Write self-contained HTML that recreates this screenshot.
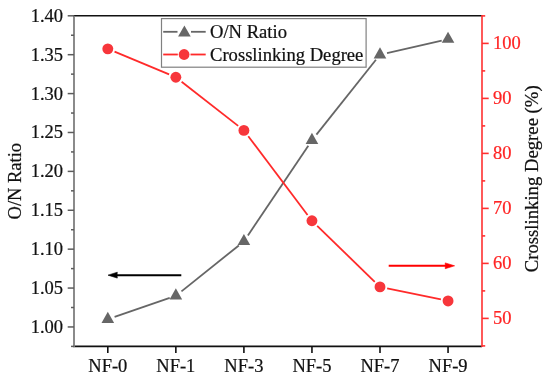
<!DOCTYPE html><html><head><meta charset="utf-8"><style>html,body{margin:0;padding:0;background:#fff;}svg{display:block;}text{font-family:"Liberation Serif","Times New Roman",serif;stroke-width:0.22px;}</style></head><body>
<svg width="550" height="381" viewBox="0 0 550 381">
<line x1="73.2" y1="15.8" x2="482.0" y2="15.8" stroke="#111" stroke-width="1.6"/>
<line x1="73.2" y1="346.4" x2="482.0" y2="346.4" stroke="#111" stroke-width="1.6"/>
<line x1="74.0" y1="15.8" x2="74.0" y2="347.0" stroke="#7e7e7e" stroke-width="1.8"/>
<line x1="482.0" y1="15.0" x2="482.0" y2="347.0" stroke="#ff3030" stroke-width="1.6"/>
<line x1="71.0" y1="346.40" x2="74.0" y2="346.40" stroke="#5c5c5c" stroke-width="1.5"/>
<line x1="67.7" y1="326.95" x2="74.0" y2="326.95" stroke="#5c5c5c" stroke-width="1.5"/>
<text x="63" y="332.95" font-size="18.5" text-anchor="end" fill="#111" stroke="#111">1.00</text>
<line x1="71.0" y1="307.51" x2="74.0" y2="307.51" stroke="#5c5c5c" stroke-width="1.5"/>
<line x1="67.7" y1="288.06" x2="74.0" y2="288.06" stroke="#5c5c5c" stroke-width="1.5"/>
<text x="63" y="294.06" font-size="18.5" text-anchor="end" fill="#111" stroke="#111">1.05</text>
<line x1="71.0" y1="268.61" x2="74.0" y2="268.61" stroke="#5c5c5c" stroke-width="1.5"/>
<line x1="67.7" y1="249.16" x2="74.0" y2="249.16" stroke="#5c5c5c" stroke-width="1.5"/>
<text x="63" y="255.16" font-size="18.5" text-anchor="end" fill="#111" stroke="#111">1.10</text>
<line x1="71.0" y1="229.72" x2="74.0" y2="229.72" stroke="#5c5c5c" stroke-width="1.5"/>
<line x1="67.7" y1="210.27" x2="74.0" y2="210.27" stroke="#5c5c5c" stroke-width="1.5"/>
<text x="63" y="216.27" font-size="18.5" text-anchor="end" fill="#111" stroke="#111">1.15</text>
<line x1="71.0" y1="190.82" x2="74.0" y2="190.82" stroke="#5c5c5c" stroke-width="1.5"/>
<line x1="67.7" y1="171.38" x2="74.0" y2="171.38" stroke="#5c5c5c" stroke-width="1.5"/>
<text x="63" y="177.38" font-size="18.5" text-anchor="end" fill="#111" stroke="#111">1.20</text>
<line x1="71.0" y1="151.93" x2="74.0" y2="151.93" stroke="#5c5c5c" stroke-width="1.5"/>
<line x1="67.7" y1="132.48" x2="74.0" y2="132.48" stroke="#5c5c5c" stroke-width="1.5"/>
<text x="63" y="138.48" font-size="18.5" text-anchor="end" fill="#111" stroke="#111">1.25</text>
<line x1="71.0" y1="113.04" x2="74.0" y2="113.04" stroke="#5c5c5c" stroke-width="1.5"/>
<line x1="67.7" y1="93.59" x2="74.0" y2="93.59" stroke="#5c5c5c" stroke-width="1.5"/>
<text x="63" y="99.59" font-size="18.5" text-anchor="end" fill="#111" stroke="#111">1.30</text>
<line x1="71.0" y1="74.14" x2="74.0" y2="74.14" stroke="#5c5c5c" stroke-width="1.5"/>
<line x1="67.7" y1="54.69" x2="74.0" y2="54.69" stroke="#5c5c5c" stroke-width="1.5"/>
<text x="63" y="60.69" font-size="18.5" text-anchor="end" fill="#111" stroke="#111">1.35</text>
<line x1="71.0" y1="35.25" x2="74.0" y2="35.25" stroke="#5c5c5c" stroke-width="1.5"/>
<line x1="67.7" y1="15.80" x2="74.0" y2="15.80" stroke="#5c5c5c" stroke-width="1.5"/>
<text x="63" y="21.80" font-size="18.5" text-anchor="end" fill="#111" stroke="#111">1.40</text>
<line x1="482.0" y1="345.90" x2="485.2" y2="345.90" stroke="#ff3030" stroke-width="1.6"/>
<line x1="482.0" y1="318.40" x2="488.7" y2="318.40" stroke="#ff3030" stroke-width="1.6"/>
<text x="493" y="324.40" font-size="18.5" fill="#ff2424" stroke="#ff2424" stroke-width="0.1">50</text>
<line x1="482.0" y1="290.90" x2="485.2" y2="290.90" stroke="#ff3030" stroke-width="1.6"/>
<line x1="482.0" y1="263.40" x2="488.7" y2="263.40" stroke="#ff3030" stroke-width="1.6"/>
<text x="493" y="269.40" font-size="18.5" fill="#ff2424" stroke="#ff2424" stroke-width="0.1">60</text>
<line x1="482.0" y1="235.90" x2="485.2" y2="235.90" stroke="#ff3030" stroke-width="1.6"/>
<line x1="482.0" y1="208.40" x2="488.7" y2="208.40" stroke="#ff3030" stroke-width="1.6"/>
<text x="493" y="214.40" font-size="18.5" fill="#ff2424" stroke="#ff2424" stroke-width="0.1">70</text>
<line x1="482.0" y1="180.90" x2="485.2" y2="180.90" stroke="#ff3030" stroke-width="1.6"/>
<line x1="482.0" y1="153.40" x2="488.7" y2="153.40" stroke="#ff3030" stroke-width="1.6"/>
<text x="493" y="159.40" font-size="18.5" fill="#ff2424" stroke="#ff2424" stroke-width="0.1">80</text>
<line x1="482.0" y1="125.90" x2="485.2" y2="125.90" stroke="#ff3030" stroke-width="1.6"/>
<line x1="482.0" y1="98.40" x2="488.7" y2="98.40" stroke="#ff3030" stroke-width="1.6"/>
<text x="493" y="104.40" font-size="18.5" fill="#ff2424" stroke="#ff2424" stroke-width="0.1">90</text>
<line x1="482.0" y1="70.90" x2="485.2" y2="70.90" stroke="#ff3030" stroke-width="1.6"/>
<line x1="482.0" y1="43.40" x2="488.7" y2="43.40" stroke="#ff3030" stroke-width="1.6"/>
<text x="493" y="49.40" font-size="18.5" fill="#ff2424" stroke="#ff2424" stroke-width="0.1">100</text>
<line x1="482.0" y1="15.90" x2="485.2" y2="15.90" stroke="#ff3030" stroke-width="1.6"/>
<line x1="107.80" y1="346.4" x2="107.80" y2="352.9" stroke="#111" stroke-width="1.6"/>
<text x="107.80" y="372.3" font-size="18.5" text-anchor="middle" fill="#111" stroke="#111">NF-0</text>
<line x1="175.85" y1="346.4" x2="175.85" y2="352.9" stroke="#111" stroke-width="1.6"/>
<text x="175.85" y="372.3" font-size="18.5" text-anchor="middle" fill="#111" stroke="#111">NF-1</text>
<line x1="243.90" y1="346.4" x2="243.90" y2="352.9" stroke="#111" stroke-width="1.6"/>
<text x="243.90" y="372.3" font-size="18.5" text-anchor="middle" fill="#111" stroke="#111">NF-3</text>
<line x1="311.95" y1="346.4" x2="311.95" y2="352.9" stroke="#111" stroke-width="1.6"/>
<text x="311.95" y="372.3" font-size="18.5" text-anchor="middle" fill="#111" stroke="#111">NF-5</text>
<line x1="380.00" y1="346.4" x2="380.00" y2="352.9" stroke="#111" stroke-width="1.6"/>
<text x="380.00" y="372.3" font-size="18.5" text-anchor="middle" fill="#111" stroke="#111">NF-7</text>
<line x1="448.05" y1="346.4" x2="448.05" y2="352.9" stroke="#111" stroke-width="1.6"/>
<text x="448.05" y="372.3" font-size="18.5" text-anchor="middle" fill="#111" stroke="#111">NF-9</text>
<text transform="translate(21,181.2) rotate(-90)" font-size="18.5" text-anchor="middle" fill="#111" stroke="#111">O/N Ratio</text>
<text transform="translate(537.5,178.8) rotate(-90)" font-size="18.7" text-anchor="middle" fill="#111" stroke="#111">Crosslinking Degree (%)</text>
<line x1="114.61" y1="316.84" x2="169.70" y2="297.95" stroke="#666666" stroke-width="1.8"/>
<line x1="181.47" y1="291.34" x2="238.82" y2="245.45" stroke="#666666" stroke-width="1.8"/>
<line x1="247.92" y1="235.41" x2="308.32" y2="145.65" stroke="#666666" stroke-width="1.8"/>
<line x1="316.43" y1="134.63" x2="375.95" y2="59.78" stroke="#666666" stroke-width="1.8"/>
<line x1="387.02" y1="53.09" x2="441.71" y2="40.59" stroke="#666666" stroke-width="1.8"/>
<line x1="114.54" y1="51.67" x2="169.11" y2="74.43" stroke="#ff2a2a" stroke-width="1.8"/>
<line x1="181.60" y1="81.73" x2="238.15" y2="125.91" stroke="#ff2a2a" stroke-width="1.8"/>
<line x1="248.29" y1="136.24" x2="307.56" y2="214.94" stroke="#ff2a2a" stroke-width="1.8"/>
<line x1="317.19" y1="225.86" x2="374.76" y2="281.80" stroke="#ff2a2a" stroke-width="1.8"/>
<line x1="387.15" y1="288.37" x2="440.90" y2="299.47" stroke="#ff2a2a" stroke-width="1.8"/>
<polygon points="107.80,311.71 101.50,322.91 114.10,322.91" fill="#666666"/>
<polygon points="175.85,288.37 169.55,299.57 182.15,299.57" fill="#666666"/>
<polygon points="243.90,233.92 237.60,245.12 250.20,245.12" fill="#666666"/>
<polygon points="311.95,132.79 305.65,143.99 318.25,143.99" fill="#666666"/>
<polygon points="380.00,47.23 373.70,58.43 386.30,58.43" fill="#666666"/>
<polygon points="448.05,31.67 441.75,42.87 454.35,42.87" fill="#666666"/>
<circle cx="107.80" cy="48.86" r="5.45" fill="#f7363b"/>
<circle cx="175.85" cy="77.24" r="5.45" fill="#f7363b"/>
<circle cx="243.90" cy="130.41" r="5.45" fill="#f7363b"/>
<circle cx="311.95" cy="220.77" r="5.45" fill="#f7363b"/>
<circle cx="380.00" cy="286.89" r="5.45" fill="#f7363b"/>
<circle cx="448.05" cy="300.94" r="5.45" fill="#f7363b"/>
<rect x="161.5" y="18.6" width="204.6" height="48.6" fill="#fff" stroke="#808080" stroke-width="1.2"/>
<line x1="163.2" y1="31.8" x2="177.5" y2="31.8" stroke="#666666" stroke-width="1.8"/>
<line x1="191" y1="31.8" x2="205.7" y2="31.8" stroke="#666666" stroke-width="1.8"/>
<polygon points="184.40,25.40 178.10,36.60 190.70,36.60" fill="#666666"/>
<line x1="163.2" y1="54.5" x2="177.8" y2="54.5" stroke="#ff2a2a" stroke-width="1.8"/>
<line x1="190.5" y1="54.5" x2="205.7" y2="54.5" stroke="#ff2a2a" stroke-width="1.8"/>
<circle cx="184.1" cy="54.5" r="5.4" fill="#f7363b"/>
<text x="210" y="38.4" font-size="18.6" fill="#111" stroke="#111">O/N Ratio</text>
<text x="210" y="60.9" font-size="18.6" fill="#111" stroke="#111">Crosslinking Degree</text>
<line x1="181.3" y1="275.2" x2="114" y2="275.2" stroke="#000" stroke-width="1.9"/>
<path d="M108,275.15 L117.3,272.2 L117.0,275.15 L117.3,278.1 Z" fill="#000" stroke="#000" stroke-width="0.6" stroke-linejoin="round"/>
<line x1="388.7" y1="265.8" x2="448" y2="265.8" stroke="#ff0000" stroke-width="1.9"/>
<path d="M454.6,265.8 L445.2,262.9 L445.4,265.8 L445.2,268.7 Z" fill="#ff0000" stroke="#ff0000" stroke-width="0.6" stroke-linejoin="round"/>
</svg></body></html>
